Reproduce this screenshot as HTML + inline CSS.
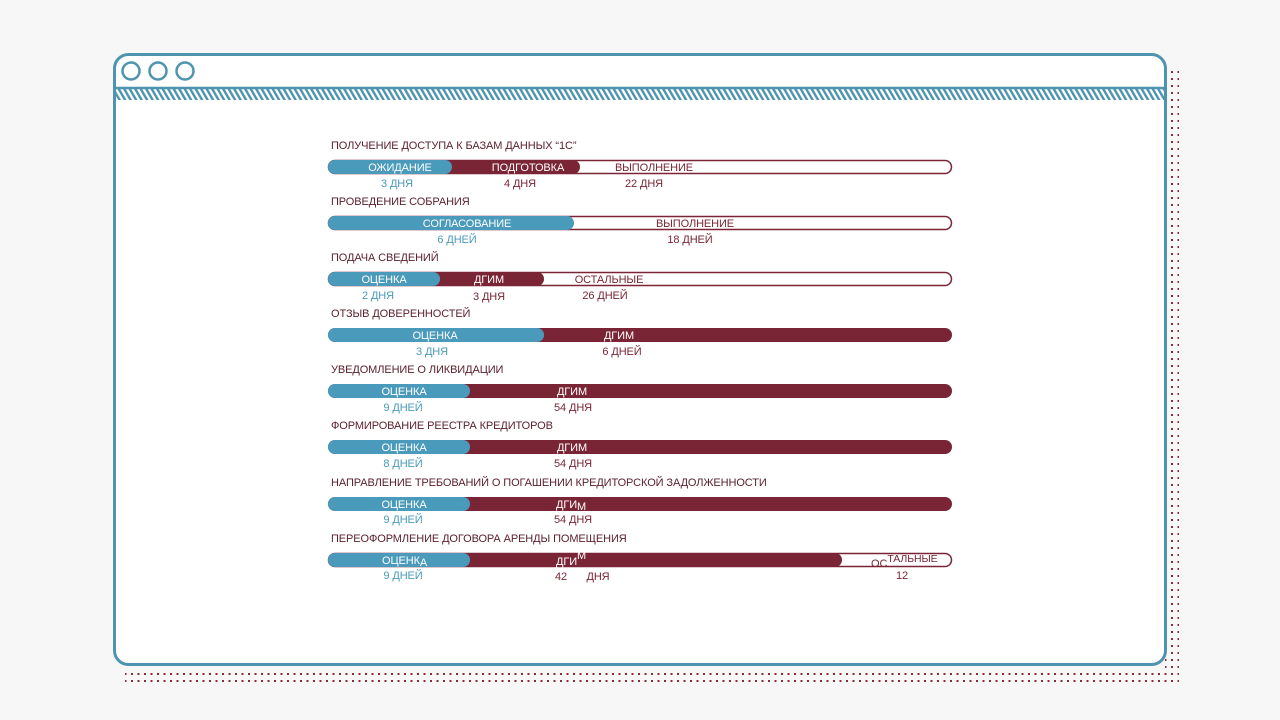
<!DOCTYPE html>
<html><head><meta charset="utf-8"><style>
html,body{margin:0;padding:0;background:#f7f7f7;}
svg{display:block;}
text{font-family:"Liberation Sans","DejaVu Sans",sans-serif;font-size:11px;letter-spacing:-0.1px;}
</style></head><body>
<svg width="1280" height="720" viewBox="0 0 1280 720" xmlns="http://www.w3.org/2000/svg">
<defs>
<pattern id="dots" x="0" y="0" width="6.5" height="7" patternUnits="userSpaceOnUse">
<rect x="1" y="1" width="2" height="2" fill="#8a2a3a"/>
</pattern>
<pattern id="stripes" x="0" y="0" width="5.5" height="12" patternUnits="userSpaceOnUse" patternTransform="skewX(30)">
<rect x="0" y="0" width="2.8" height="12" fill="#4f94ae"/>
</pattern>
</defs>
<rect x="1165" y="68" width="14" height="612" fill="url(#dots)"/>
<rect x="125" y="668" width="1054" height="14" fill="url(#dots)"/>
<rect x="114.5" y="54.5" width="1051" height="610" rx="14" fill="#fff" stroke="#4f94ae" stroke-width="3"/>
<line x1="115" y1="88" x2="1165" y2="88" stroke="#4f94ae" stroke-width="2.5"/>
<rect x="116" y="89" width="1048" height="11" fill="url(#stripes)"/>
<circle cx="131" cy="71" r="8.5" fill="none" stroke="#4f94ae" stroke-width="2.5"/>
<circle cx="158" cy="71" r="8.5" fill="none" stroke="#4f94ae" stroke-width="2.5"/>
<circle cx="185" cy="71" r="8.5" fill="none" stroke="#4f94ae" stroke-width="2.5"/>

<g id="rows">
<g transform="translate(0,160)">
<text x="331" y="-11" fill="#5a1e2c">ПОЛУЧЕНИЕ ДОСТУПА К БАЗАМ ДАННЫХ “1С”</text>
<rect x="328.5" y="0.5" width="623" height="13" rx="6.5" fill="#fff" stroke="#7a2535" stroke-width="1.5"/>
<rect x="328" y="0" width="252" height="14" rx="7" fill="#7a2535"/>
<rect x="328" y="0" width="124" height="14" rx="7" fill="#4a9abb"/>
<text x="400" y="11" fill="#fff" text-anchor="middle">ОЖИДАНИЕ</text>
<text x="528" y="11" fill="#fff" text-anchor="middle">ПОДГОТОВКА</text>
<text x="654" y="11" fill="#7a2535" text-anchor="middle">ВЫПОЛНЕНИЕ</text>
<text x="397" y="27" fill="#4a9abb" text-anchor="middle">3 ДНЯ</text>
<text x="520" y="27" fill="#7a2535" text-anchor="middle">4 ДНЯ</text>
<text x="644" y="27" fill="#7a2535" text-anchor="middle">22 ДНЯ</text>
</g>
<g transform="translate(0,216)">
<text x="331" y="-11" fill="#5a1e2c">ПРОВЕДЕНИЕ СОБРАНИЯ</text>
<rect x="328.5" y="0.5" width="623" height="13" rx="6.5" fill="#fff" stroke="#7a2535" stroke-width="1.5"/>
<rect x="328" y="0" width="246" height="14" rx="7" fill="#4a9abb"/>
<text x="467" y="11" fill="#fff" text-anchor="middle">СОГЛАСОВАНИЕ</text>
<text x="695" y="11" fill="#7a2535" text-anchor="middle">ВЫПОЛНЕНИЕ</text>
<text x="457" y="27" fill="#4a9abb" text-anchor="middle">6 ДНЕЙ</text>
<text x="690" y="27" fill="#7a2535" text-anchor="middle">18 ДНЕЙ</text>
</g>
<g transform="translate(0,272)">
<text x="331" y="-11" fill="#5a1e2c">ПОДАЧА СВЕДЕНИЙ</text>
<rect x="328.5" y="0.5" width="623" height="13" rx="6.5" fill="#fff" stroke="#7a2535" stroke-width="1.5"/>
<rect x="328" y="0" width="216" height="14" rx="7" fill="#7a2535"/>
<rect x="328" y="0" width="112" height="14" rx="7" fill="#4a9abb"/>
<text x="384" y="11" fill="#fff" text-anchor="middle">ОЦЕНКА</text>
<text x="489" y="11" fill="#fff" text-anchor="middle">ДГИМ</text>
<text x="609" y="11" fill="#7a2535" text-anchor="middle">ОСТАЛЬНЫЕ</text>
<text x="378" y="27" fill="#4a9abb" text-anchor="middle">2 ДНЯ</text>
<text x="489" y="28" fill="#7a2535" text-anchor="middle">3 ДНЯ</text>
<text x="605" y="27" fill="#7a2535" text-anchor="middle">26 ДНЕЙ</text>
</g>
<g transform="translate(0,328)">
<text x="331" y="-11" fill="#5a1e2c">ОТЗЫВ ДОВЕРЕННОСТЕЙ</text>
<rect x="328" y="0" width="624" height="14" rx="7" fill="#7a2535"/>
<rect x="328" y="0" width="216" height="14" rx="7" fill="#4a9abb"/>
<text x="435" y="11" fill="#fff" text-anchor="middle">ОЦЕНКА</text>
<text x="619" y="11" fill="#fff" text-anchor="middle">ДГИМ</text>
<text x="432" y="27" fill="#4a9abb" text-anchor="middle">3 ДНЯ</text>
<text x="622" y="27" fill="#7a2535" text-anchor="middle">6 ДНЕЙ</text>
</g>
<g transform="translate(0,384)">
<text x="331" y="-11" fill="#5a1e2c">УВЕДОМЛЕНИЕ О ЛИКВИДАЦИИ</text>
<rect x="328" y="0" width="624" height="14" rx="7" fill="#7a2535"/>
<rect x="328" y="0" width="142" height="14" rx="7" fill="#4a9abb"/>
<text x="404" y="11" fill="#fff" text-anchor="middle">ОЦЕНКА</text>
<text x="572" y="11" fill="#fff" text-anchor="middle">ДГИМ</text>
<text x="403" y="27" fill="#4a9abb" text-anchor="middle">9 ДНЕЙ</text>
<text x="573" y="27" fill="#7a2535" text-anchor="middle">54 ДНЯ</text>
</g>
<g transform="translate(0,440)">
<text x="331" y="-11" fill="#5a1e2c">ФОРМИРОВАНИЕ РЕЕСТРА КРЕДИТОРОВ</text>
<rect x="328" y="0" width="624" height="14" rx="7" fill="#7a2535"/>
<rect x="328" y="0" width="142" height="14" rx="7" fill="#4a9abb"/>
<text x="404" y="11" fill="#fff" text-anchor="middle">ОЦЕНКА</text>
<text x="572" y="11" fill="#fff" text-anchor="middle">ДГИМ</text>
<text x="403" y="27" fill="#4a9abb" text-anchor="middle">8 ДНЕЙ</text>
<text x="573" y="27" fill="#7a2535" text-anchor="middle">54 ДНЯ</text>
</g>
<g transform="translate(0,497)">
<text x="331" y="-11" fill="#5a1e2c">НАПРАВЛЕНИЕ ТРЕБОВАНИЙ О ПОГАШЕНИИ КРЕДИТОРСКОЙ ЗАДОЛЖЕННОСТИ</text>
<rect x="328" y="0" width="624" height="14" rx="7" fill="#7a2535"/>
<rect x="328" y="0" width="142" height="14" rx="7" fill="#4a9abb"/>
<text x="404" y="11" fill="#fff" text-anchor="middle">ОЦЕНКА</text>
<text x="556" y="11" fill="#fff">ДГИ<tspan dy="2">М</tspan></text>
<text x="403" y="26" fill="#4a9abb" text-anchor="middle">9 ДНЕЙ</text>
<text x="573" y="26" fill="#7a2535" text-anchor="middle">54 ДНЯ</text>
</g>
<g transform="translate(0,553)">
<text x="331" y="-11" fill="#5a1e2c">ПЕРЕОФОРМЛЕНИЕ ДОГОВОРА АРЕНДЫ ПОМЕЩЕНИЯ</text>
<rect x="328.5" y="0.5" width="623" height="13" rx="6.5" fill="#fff" stroke="#7a2535" stroke-width="1.5"/>
<rect x="328" y="0" width="514" height="14" rx="7" fill="#7a2535"/>
<rect x="328" y="0" width="142" height="14" rx="7" fill="#4a9abb"/>
<text x="382" y="11" fill="#fff">ОЦЕНК<tspan dy="2">А</tspan></text>
<text x="556" y="12" fill="#fff">ДГИ<tspan dy="-6">М</tspan></text>
<text x="871" y="14" fill="#7a2535">ОС<tspan dy="-5" font-size="10.5">ТАЛЬНЫЕ</tspan></text>
<text x="403" y="26" fill="#4a9abb" text-anchor="middle">9 ДНЕЙ</text>
<text x="561" y="27" fill="#7a2535" text-anchor="middle">42</text>
<text x="598" y="27" fill="#7a2535" text-anchor="middle">ДНЯ</text>
<text x="902" y="26" fill="#7a2535" text-anchor="middle">12</text>
</g>
</g>
</svg>
</body></html>
